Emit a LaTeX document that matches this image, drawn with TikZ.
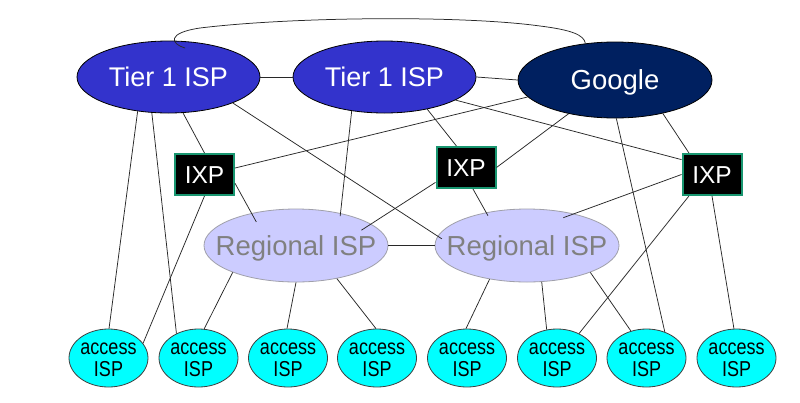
\documentclass[tikz,border=0pt]{standalone}
\usepackage{fontspec}
\setmainfont{Liberation Sans}
\usetikzlibrary{shapes.geometric,calc}
\definecolor{tierblue}{RGB}{51,51,204}
\definecolor{googblue}{RGB}{0,32,96}
\definecolor{ixpteal}{RGB}{24,150,112}
\definecolor{regfill}{RGB}{204,204,255}
\definecolor{regline}{RGB}{160,160,170}
\definecolor{regtextc}{RGB}{128,128,128}
\definecolor{accfill}{RGB}{0,255,255}
\definecolor{connc}{RGB}{40,40,40}
\begin{document}
\begin{tikzpicture}[x=1pt,y=-1pt,
  tier/.style={ellipse, draw=black, line width=0.8pt, fill=tierblue, text=white,
    minimum width=183pt, minimum height=72pt, inner sep=0pt,
    font=\fontsize{27pt}{32pt}\selectfont, text height=19.3pt, text depth=0pt},
  goog/.style={tier, fill=googblue, minimum width=194pt, minimum height=76pt,
    font=\fontsize{27.5pt}{32pt}\selectfont, text height=19.7pt},
  ixp/.style={rectangle, draw=ixpteal, line width=2pt, fill=black, text=white,
    minimum width=59pt, minimum height=41pt, inner sep=0pt,
    font=\fontsize{24.5pt}{29pt}\selectfont, text height=17.5pt, text depth=0pt},
  reg/.style={ellipse, draw=regline, line width=0.8pt, fill=regfill,
    minimum width=184pt, minimum height=73pt, inner sep=0pt},
  regtext/.style={text=regtextc, inner sep=0pt,
    font=\fontsize{27.5pt}{32pt}\selectfont, text height=19.7pt, text depth=0pt},
  acc/.style={ellipse, draw=black!75, line width=0.8pt, fill=accfill,
    minimum width=79pt, minimum height=58pt, inner sep=0pt},
  acctext/.style={align=center, inner sep=0pt, text=black, yscale=1.2, transform shape,
    font=\fontsize{18pt}{18.9pt}\selectfont, yshift=-1.5pt},
  conn/.style={draw=connc, line width=0.75pt}
]
\fill[white] (0,0) rectangle (800,402);
\useasboundingbox (0,0) rectangle (800,402);

% nodes
\node[tier] (t1a) at (168.5,77) {Tier 1 ISP};
\node[tier] (t1b) at (384.5,77) {Tier 1 ISP};
\node[goog] (goog) at (615,80) {Google};
\node[ixp] (ixa) at (204.5,174.5) {IXP};
\node[ixp] (ixb) at (466,167.5) {IXP};
\node[ixp] (ixc) at (712,174.5) {IXP};
\node[reg, label={[regtext]center:Regional ISP}] (rga) at (296,245.5) {};
\node[reg, label={[regtext]center:Regional ISP}] (rgb) at (527,245.5) {};
\node[acc, label={[acctext]center:access\\ISP}] (ac1) at (108.5,358) {};
\node[acc, label={[acctext]center:access\\ISP}] (ac2) at (198.5,358) {};
\node[acc, label={[acctext]center:access\\ISP}] (ac3) at (288,358) {};
\node[acc, label={[acctext]center:access\\ISP}] (ac4) at (377,358) {};
\node[acc, label={[acctext]center:access\\ISP}] (ac5) at (467,358) {};
\node[acc, label={[acctext]center:access\\ISP}] (ac6) at (557,358) {};
\node[acc, label={[acctext]center:access\\ISP}] (ac7) at (646.5,358) {};
\node[acc, label={[acctext]center:access\\ISP}] (ac8) at (736.5,358) {};

% connectors
\draw[conn] (t1a.east) -- (t1b.west);
\draw[conn] (t1b.east) -- (goog.west);
\draw[conn] ($(t1a.center)+(16.5,-29)$) .. controls (171,44) and (166,33) .. (200,28)
  .. controls (290,17) and (460,15) .. (540,26)
  .. controls (572,30) and (584,35) .. (goog.129);
\draw[conn] (t1a.228) -- (ac1.89);
\draw[conn] (t1a.245) -- (ac2.132);
\draw[conn] (t1a.292) -- (ixa.north);
\draw[conn, shorten >=-5pt] (t1a.338) -- (rgb.174);
\draw[conn, shorten >=-3pt] (t1b.226) -- (rga.36);
\draw[conn] (t1b.323) -- (ixb.114);
\draw[conn] (t1b.342) -- (ixc.154);
\draw[conn] (goog.191) -- (ixa.12);
\draw[conn] (goog.216) -- (ixb.east);
\draw[conn] (goog.272) -- (ac7.55);
\draw[conn] (goog.325) -- (ixc.137);
\draw[conn, shorten >=-10pt] (ixa.344) -- (rga.144);
\draw[conn] (ixa.south) -- (ac1.23);
\draw[conn, shorten >=-11.5pt] (ixb.206) -- (rga.16);
\draw[conn, shorten >=-3.7pt] (ixb.288) -- (rgb.141);
\draw[conn, shorten >=-11.4pt] (ixc.west) -- (rgb.34);
\draw[conn] (ixc.223) -- (ac6.48);
\draw[conn] (ixc.south) -- (ac8.95);
\draw[conn] (rga.east) -- (rgb.west);
\draw[conn] (rga.203) -- (ac2.79);
\draw[conn] (rga.south) -- (ac3.92);
\draw[conn] (rga.321) -- (ac4.92);
\draw[conn] (rgb.222) -- (ac5.92);
\draw[conn] (rgb.292) -- (ac6.110);
\draw[conn] (rgb.337) -- (ac7.120);
\end{tikzpicture}
\end{document}
